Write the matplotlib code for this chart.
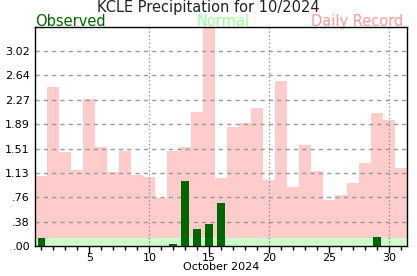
import numpy as np
import matplotlib
matplotlib.use('Agg')
import matplotlib.pyplot as plt
from matplotlib.ticker import FixedLocator, MultipleLocator

days = np.arange(1, 32)

# daily record precipitation (in)
record = [1.09, 2.47, 1.46, 1.18, 2.28, 1.54, 1.15, 1.47, 1.10, 1.07,
          0.75, 1.47, 1.54, 2.08, 3.38, 1.05, 1.85, 1.91, 2.14, 1.02,
          2.56, 0.92, 1.57, 1.16, 0.71, 0.79, 0.98, 1.29, 2.06, 1.96, 1.21]

# normal daily precipitation (in)
normal = [0.12] * 31

# observed precipitation (in), days with rain only
obs_days = [1, 12, 13, 14, 15, 16, 29]
observed = [0.12, 0.03, 1.01, 0.26, 0.34, 0.67, 0.14]

ymax = 3.40
yticks = [ymax / 9 * k for k in range(9)]
ylabels = [('%.2f' % v).lstrip('0') if v < 1 else '%.2f' % v for v in yticks]

fig = plt.figure(figsize=(4.17, 2.76), dpi=100)
ax = fig.add_axes([0.0851, 0.1087, 0.8909, 0.7946])

ax.bar(days, record, width=1.0, color='#ffcccc', zorder=1)
ax.bar(days, normal, width=1.0, color='#ccffcc', zorder=2)
ax.bar(obs_days, observed, width=0.66, color='#006600', zorder=4)

ax.set_xlim(0.5, 31.5)
ax.set_ylim(0, ymax)
ax.set_yticks(yticks)
ax.set_yticklabels(ylabels, fontsize=8)
ax.tick_params(axis='y', length=0, pad=4)

ax.xaxis.set_major_locator(FixedLocator([5, 10, 15, 20, 25, 30]))
ax.xaxis.set_minor_locator(MultipleLocator(1))
ax.tick_params(axis='x', which='major', length=5, width=1, labelsize=8, pad=0)
ax.tick_params(axis='x', which='minor', length=3, width=1)
ax.set_xlabel('October 2024', fontsize=8, labelpad=-1)

for y in yticks[1:]:
    ax.axhline(y, color='#999999', linestyle=(0, (3, 3)), linewidth=1, zorder=3)
for x in [10, 20, 30]:
    ax.axvline(x, color='#888888', linestyle=(0, (1, 2)), linewidth=0.9, zorder=3)

for s in ax.spines.values():
    s.set_linewidth(1)
    s.set_zorder(5)

fig.text(0.5, 1.0, 'KCLE Precipitation for 10/2024', ha='center', va='top',
         fontsize=10.5, color='#222222')
ax.text(0.0, 0.99, 'Observed', transform=ax.transAxes, ha='left', va='bottom',
        fontsize=10.5, color='#006600')
ax.text(0.505, 0.99, 'Normal', transform=ax.transAxes, ha='center', va='bottom',
        fontsize=10.5, color='#99ff99')
ax.text(0.99, 0.99, 'Daily Record', transform=ax.transAxes, ha='right', va='bottom',
        fontsize=10.5, color='#ff9999')

fig.savefig('out.png', dpi=100)
